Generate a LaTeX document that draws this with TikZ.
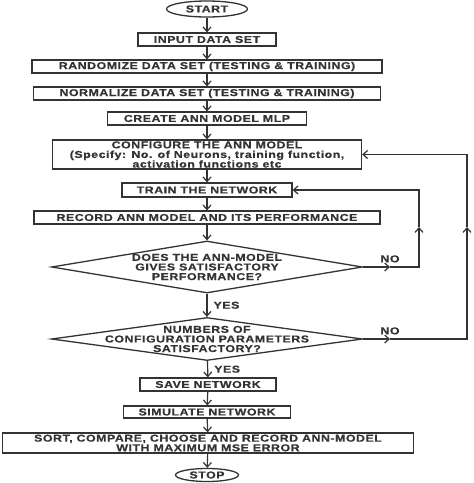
\documentclass[tikz,border=0pt]{standalone}
\usepackage{fontspec}
\setmainfont{Liberation Sans}[FakeStretch=1.24,LetterSpace=5,BoldFeatures={FakeBold=0.6}]
\usetikzlibrary{shapes.geometric,arrows.meta}

\definecolor{trait}{HTML}{333333}

\tikzset{
    police/.style={font=\bfseries\fontsize{10}{9.6}\selectfont, text=trait},
    boite/.style={draw=trait, line width=1.3pt, inner sep=0pt, align=center, police},
    terminal/.style={boite, ellipse},
    decision/.style={draw=trait, line width=1.3pt, diamond, inner sep=0pt},
    texte/.style={police, align=center, inner sep=0pt},
    flux/.style={draw=trait, line width=1.2pt, -{Straight Barb[length=4.5pt,width=8pt]}}
}

\begin{document}
\begin{tikzpicture}[x=1pt,y=-1pt]
    \useasboundingbox (0,0) rectangle (474,483);

    % Début et fin
    \node[terminal, minimum width=81, minimum height=16] (start) at (207,9) {START};
    \node[terminal, minimum width=63, minimum height=13] (stop) at (207,475) {STOP};

    % Les étapes
    \node[boite, minimum width=138, minimum height=13] (input) at (207,39.5) {INPUT DATA SET};
    \node[boite, minimum width=350, minimum height=13] (rand) at (207,66.5) {RANDOMIZE DATA SET (TESTING \& TRAINING)};
    \node[boite, minimum width=347, minimum height=13] (norm) at (207,93.5) {NORMALIZE DATA SET (TESTING \& TRAINING)};
    \node[boite, minimum width=199, minimum height=13] (create) at (207,118.5) {CREATE ANN MODEL MLP};
    \node[boite, minimum width=309, minimum height=29] (config) at (207,154.5)
        {CONFIGURE THE ANN MODEL\\(Specify: No. of Neurons, training function,\\activation functions etc};
    \node[boite, minimum width=170, minimum height=14] (train) at (207,190) {TRAIN THE NETWORK};
    \node[boite, minimum width=346, minimum height=13] (record) at (207,217.5) {RECORD ANN MODEL AND ITS PERFORMANCE};
    \node[boite, minimum width=136, minimum height=13] (save) at (208,384.5) {SAVE NETWORK};
    \node[boite, minimum width=167, minimum height=12] (simul) at (207,412) {SIMULATE NETWORK};
    \node[boite, minimum width=411, minimum height=20] (sort) at (208,443)
        {SORT, COMPARE, CHOOSE AND RECORD ANN-MODEL\\WITH MAXIMUM MSE ERROR};

    % Les tests
    \node[decision, minimum width=311, minimum height=52,
          label={[texte]center:DOES THE ANN-MODEL\\GIVES SATISFACTORY\\PERFORMANCE?}] (d1) at (207,267) {};
    \node[decision, minimum width=311, minimum height=43,
          label={[texte]center:NUMBERS OF\\CONFIGURATION PARAMETERS\\SATISFACTORY?}] (d2) at (207,339) {};

    % Flèches principales
    \foreach \a/\b in {start/input, input/rand, rand/norm, norm/create, create/config,
                       config/train, train/record, record/d1, save/simul, simul/sort, sort/stop} {
        \draw[flux] (\a) -- (\b);
    }
    \draw[flux] (d1) -- node[texte, right=6pt] {YES} (d2);
    \draw[flux] (d2) -- node[texte, right=6pt] {YES} (save);

    % Boucles de retour
    \coordinate (n1) at (390,267);
    \coordinate (c1) at (419,267);
    \coordinate (h1) at (419,227);
    \coordinate (n2) at (390,339);
    \coordinate (c2) at (467,339);
    \coordinate (h2) at (467,227);

    \draw[flux] (d1.east) -- (n1) node[texte, above=4pt] {NO};
    \draw[flux] (n1) -- (c1) -- (h1);
    \draw[flux] (h1) |- (train.east);

    \draw[flux] (d2.east) -- (n2) node[texte, above=4pt] {NO};
    \draw[flux] (n2) -- (c2) -- (h2);
    \draw[flux] (h2) |- (config.east);
\end{tikzpicture}
\end{document}
